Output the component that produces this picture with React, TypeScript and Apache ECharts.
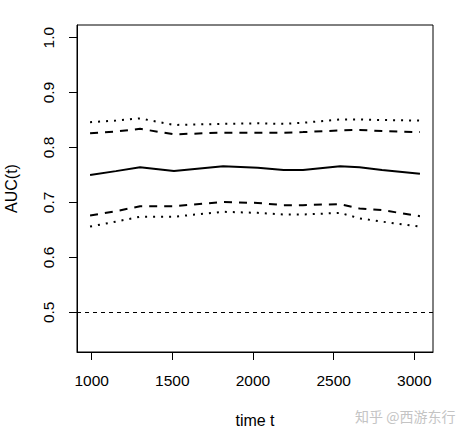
import React, { useEffect, useRef } from "react";
import * as echarts from "echarts";

const times = [990, 1150, 1300, 1510, 1815, 2030, 2190, 2310, 2540, 2660, 2800, 3035];
const aucValues = [0.750, 0.757, 0.764, 0.757, 0.766, 0.763, 0.759, 0.759, 0.766, 0.764, 0.759, 0.752];
const upperDashed = [0.826, 0.829, 0.834, 0.824, 0.827, 0.827, 0.827, 0.828, 0.831, 0.832, 0.830, 0.828];
const upperDotted = [0.846, 0.849, 0.853, 0.841, 0.843, 0.844, 0.843, 0.845, 0.851, 0.851, 0.850, 0.849];
const lowerDashed = [0.676, 0.684, 0.693, 0.693, 0.701, 0.699, 0.695, 0.695, 0.697, 0.689, 0.686, 0.675];
const lowerDotted = [0.656, 0.665, 0.674, 0.674, 0.683, 0.681, 0.678, 0.678, 0.681, 0.671, 0.665, 0.656];
const xTicks = [1000, 1500, 2000, 2500, 3000];
const yTicks = [0.5, 0.6, 0.7, 0.8, 0.9, 1.0];
const referenceLevel = 0.5;

const zip = (vals: number[]) => times.map((t, i) => [t, vals[i]]);

export default function App() {
  const ref = useRef<HTMLDivElement>(null);
  useEffect(() => {
    if (!ref.current) return;
    const chart = echarts.init(ref.current, null, { renderer: "svg" });
    const font = "'Liberation Sans', Arial, sans-serif";
    const lineSeries = (name: string, vals: number[], type: any) => ({
      name,
      type: "line",
      data: zip(vals),
      showSymbol: false,
      symbol: "none",
      silent: true,
      lineStyle: { color: "#000", width: 2, type, cap: "butt" },
    });
    chart.setOption({
      animation: false,
      backgroundColor: "#fff",
      grid: {
        left: 77,
        top: 25,
        right: 33,
        bottom: 85,
        containLabel: false,
        outerBoundsMode: "none",
        show: true,
        borderColor: "#000",
        borderWidth: 1,
        backgroundColor: "transparent",
      },
      xAxis: {
        type: "value",
        min: 909,
        max: 3116,
        name: "time t",
        nameLocation: "middle",
        nameGap: 60,
        nameTextStyle: { fontFamily: font, fontSize: 16, color: "#000" },
        splitLine: { show: false },
        axisLine: { show: true, onZero: false, lineStyle: { color: "#000" } },
        axisTick: { show: true, length: 8, customValues: xTicks, lineStyle: { color: "#000" } },
        axisLabel: {
          customValues: xTicks,
          margin: 20,
          fontFamily: font,
          fontSize: 15.5,
          color: "#000",
          formatter: (v: number) => String(Math.round(v)),
        },
      },
      yAxis: {
        type: "value",
        min: 0.4277,
        max: 1.023,
        name: "AUC(t)",
        nameLocation: "middle",
        nameGap: 58,
        nameTextStyle: { fontFamily: font, fontSize: 16, color: "#000" },
        splitLine: { show: false },
        axisLine: { show: true, onZero: false, lineStyle: { color: "#000" } },
        axisTick: { show: true, length: 8, customValues: yTicks, lineStyle: { color: "#000" } },
        axisLabel: {
          customValues: yTicks,
          rotate: 90,
          margin: 21,
          fontFamily: font,
          fontSize: 15.5,
          color: "#000",
          formatter: (v: number) => v.toFixed(1),
        },
      },
      series: [
        lineSeries("AUC", aucValues, "solid"),
        lineSeries("upper95", upperDashed, [8, 7]),
        lineSeries("upperBand", upperDotted, [2, 6]),
        lineSeries("lower95", lowerDashed, [8, 7]),
        lineSeries("lowerBand", lowerDotted, [2, 6]),
        {
          name: "ref",
          type: "line",
          data: [],
          silent: true,
          markLine: {
            silent: true,
            symbol: "none",
            label: { show: false },
            lineStyle: { color: "#000", width: 1, type: [4, 4] },
            data: [{ yAxis: referenceLevel }],
          },
        },
      ],
      graphic: [
        {
          type: "text",
          left: 355,
          top: 409,
          silent: true,
          style: {
            text: "知乎 @西游东行",
            fontFamily: "'Noto Sans CJK SC', sans-serif",
            fontSize: 14,
            fill: "#c4c4c4",
          },
        },
      ],
    });
    return () => chart.dispose();
  }, []);
  return (
    <div
      ref={ref}
      style={{ position: "fixed", left: 0, top: 0, width: 466, height: 437, background: "#fff" }}
    />
  );
}
